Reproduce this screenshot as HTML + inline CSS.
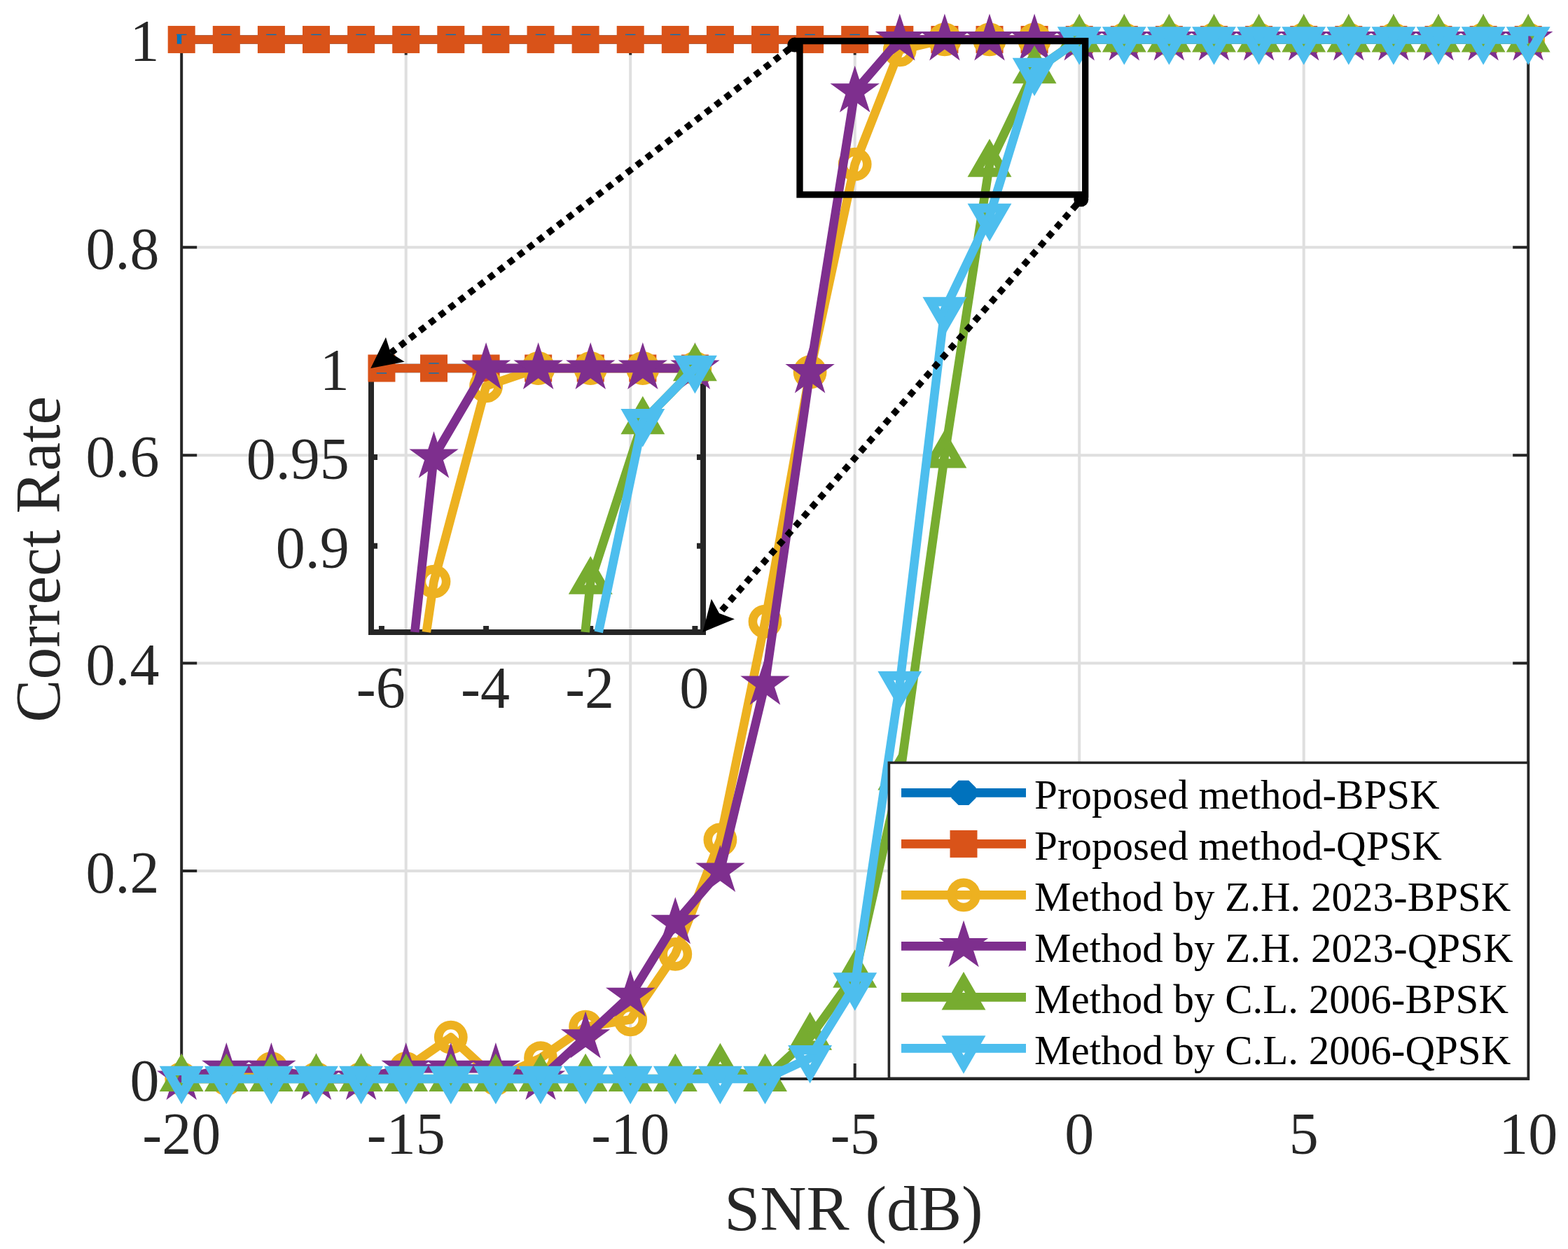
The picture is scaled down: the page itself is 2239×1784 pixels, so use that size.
<!DOCTYPE html><html><head><meta charset="utf-8"><style>html,body{margin:0;padding:0;background:#fff;overflow:hidden;}svg{display:block;}text{font-family:"Liberation Serif",serif;}</style></head><body>
<svg width="2239" height="1784" viewBox="0 0 2239 1784">
<rect width="2239" height="1784" fill="#fff"/>
<path d="M579.7 56.45 V1540.95 M900.2 56.45 V1540.95 M1220.7 56.45 V1540.95 M1541.2 56.45 V1540.95 M1861.7 56.45 V1540.95 M259.2 1244.05 H2182.2 M259.2 947.15 H2182.2 M259.2 650.25 H2182.2 M259.2 353.35 H2182.2" stroke="#dfdfdf" stroke-width="4" fill="none"/>
<path d="M259.2 56.45 H2182.2 V1540.95 H259.2 Z M259.2 1540.95 v-22 M259.2 56.45 v22 M579.7 1540.95 v-22 M579.7 56.45 v22 M900.2 1540.95 v-22 M900.2 56.45 v22 M1220.7 1540.95 v-22 M1220.7 56.45 v22 M1541.2 1540.95 v-22 M1541.2 56.45 v22 M1861.7 1540.95 v-22 M1861.7 56.45 v22 M2182.2 1540.95 v-22 M2182.2 56.45 v22 M259.2 1540.95 h22 M2182.2 1540.95 h-22 M259.2 1244.05 h22 M2182.2 1244.05 h-22 M259.2 947.15 h22 M2182.2 947.15 h-22 M259.2 650.25 h22 M2182.2 650.25 h-22 M259.2 353.35 h22 M2182.2 353.35 h-22 M259.2 56.45 h22 M2182.2 56.45 h-22" stroke="#262626" stroke-width="4" fill="none"/>
<text x="227.5" y="1571.8" font-size="84" fill="#262626" text-anchor="end">0</text>
<text x="227.5" y="1274.9" font-size="84" fill="#262626" text-anchor="end">0.2</text>
<text x="227.5" y="978" font-size="84" fill="#262626" text-anchor="end">0.4</text>
<text x="227.5" y="681.1" font-size="84" fill="#262626" text-anchor="end">0.6</text>
<text x="227.5" y="384.2" font-size="84" fill="#262626" text-anchor="end">0.8</text>
<text x="227.5" y="87.3" font-size="84" fill="#262626" text-anchor="end">1</text>
<text x="259.2" y="1648.4" font-size="84" fill="#262626" text-anchor="middle">-20</text>
<text x="579.7" y="1648.4" font-size="84" fill="#262626" text-anchor="middle">-15</text>
<text x="900.2" y="1648.4" font-size="84" fill="#262626" text-anchor="middle">-10</text>
<text x="1220.7" y="1648.4" font-size="84" fill="#262626" text-anchor="middle">-5</text>
<text x="1541.2" y="1648.4" font-size="84" fill="#262626" text-anchor="middle">0</text>
<text x="1861.7" y="1648.4" font-size="84" fill="#262626" text-anchor="middle">5</text>
<text x="2182.2" y="1648.4" font-size="84" fill="#262626" text-anchor="middle">10</text>
<text x="1218.9" y="1757.2" font-size="91.7" fill="#262626" text-anchor="middle">SNR (dB)</text>
<text transform="translate(85.3 798.7) rotate(-90)" font-size="91.7" fill="#262626" text-anchor="middle">Correct Rate</text>
<path d="M259.2 56.45 L323.3 56.45 L387.4 56.45 L451.5 56.45 L515.6 56.45 L579.7 56.45 L643.8 56.45 L707.9 56.45 L772 56.45 L836.1 56.45 L900.2 56.45 L964.3 56.45 L1028.4 56.45 L1092.5 56.45 L1156.6 56.45 L1220.7 56.45 L1284.8 56.45 L1348.9 56.45 L1413 56.45 L1477.1 56.45 L1541.2 56.45 L1605.3 56.45 L1669.4 56.45 L1733.5 56.45 L1797.6 56.45 L1861.7 56.45 L1925.8 56.45 L1989.9 56.45 L2054 56.45 L2118.1 56.45 L2182.2 56.45" stroke="#0072BD" stroke-width="12.6" fill="none" stroke-linejoin="round"/>
<path d="M251.91 38.85 L266.49 38.85 L276.8 49.16 L276.8 63.74 L266.49 74.05 L251.91 74.05 L241.6 63.74 L241.6 49.16Z" fill="#0072BD"/><path d="M316.01 38.85 L330.59 38.85 L340.9 49.16 L340.9 63.74 L330.59 74.05 L316.01 74.05 L305.7 63.74 L305.7 49.16Z" fill="#0072BD"/><path d="M380.11 38.85 L394.69 38.85 L405 49.16 L405 63.74 L394.69 74.05 L380.11 74.05 L369.8 63.74 L369.8 49.16Z" fill="#0072BD"/><path d="M444.21 38.85 L458.79 38.85 L469.1 49.16 L469.1 63.74 L458.79 74.05 L444.21 74.05 L433.9 63.74 L433.9 49.16Z" fill="#0072BD"/><path d="M508.31 38.85 L522.89 38.85 L533.2 49.16 L533.2 63.74 L522.89 74.05 L508.31 74.05 L498 63.74 L498 49.16Z" fill="#0072BD"/><path d="M572.41 38.85 L586.99 38.85 L597.3 49.16 L597.3 63.74 L586.99 74.05 L572.41 74.05 L562.1 63.74 L562.1 49.16Z" fill="#0072BD"/><path d="M636.51 38.85 L651.09 38.85 L661.4 49.16 L661.4 63.74 L651.09 74.05 L636.51 74.05 L626.2 63.74 L626.2 49.16Z" fill="#0072BD"/><path d="M700.61 38.85 L715.19 38.85 L725.5 49.16 L725.5 63.74 L715.19 74.05 L700.61 74.05 L690.3 63.74 L690.3 49.16Z" fill="#0072BD"/><path d="M764.71 38.85 L779.29 38.85 L789.6 49.16 L789.6 63.74 L779.29 74.05 L764.71 74.05 L754.4 63.74 L754.4 49.16Z" fill="#0072BD"/><path d="M828.81 38.85 L843.39 38.85 L853.7 49.16 L853.7 63.74 L843.39 74.05 L828.81 74.05 L818.5 63.74 L818.5 49.16Z" fill="#0072BD"/><path d="M892.91 38.85 L907.49 38.85 L917.8 49.16 L917.8 63.74 L907.49 74.05 L892.91 74.05 L882.6 63.74 L882.6 49.16Z" fill="#0072BD"/><path d="M957.01 38.85 L971.59 38.85 L981.9 49.16 L981.9 63.74 L971.59 74.05 L957.01 74.05 L946.7 63.74 L946.7 49.16Z" fill="#0072BD"/><path d="M1021.11 38.85 L1035.69 38.85 L1046 49.16 L1046 63.74 L1035.69 74.05 L1021.11 74.05 L1010.8 63.74 L1010.8 49.16Z" fill="#0072BD"/><path d="M1085.21 38.85 L1099.79 38.85 L1110.1 49.16 L1110.1 63.74 L1099.79 74.05 L1085.21 74.05 L1074.9 63.74 L1074.9 49.16Z" fill="#0072BD"/><path d="M1149.31 38.85 L1163.89 38.85 L1174.2 49.16 L1174.2 63.74 L1163.89 74.05 L1149.31 74.05 L1139 63.74 L1139 49.16Z" fill="#0072BD"/><path d="M1213.41 38.85 L1227.99 38.85 L1238.3 49.16 L1238.3 63.74 L1227.99 74.05 L1213.41 74.05 L1203.1 63.74 L1203.1 49.16Z" fill="#0072BD"/><path d="M1277.51 38.85 L1292.09 38.85 L1302.4 49.16 L1302.4 63.74 L1292.09 74.05 L1277.51 74.05 L1267.2 63.74 L1267.2 49.16Z" fill="#0072BD"/><path d="M1341.61 38.85 L1356.19 38.85 L1366.5 49.16 L1366.5 63.74 L1356.19 74.05 L1341.61 74.05 L1331.3 63.74 L1331.3 49.16Z" fill="#0072BD"/><path d="M1405.71 38.85 L1420.29 38.85 L1430.6 49.16 L1430.6 63.74 L1420.29 74.05 L1405.71 74.05 L1395.4 63.74 L1395.4 49.16Z" fill="#0072BD"/><path d="M1469.81 38.85 L1484.39 38.85 L1494.7 49.16 L1494.7 63.74 L1484.39 74.05 L1469.81 74.05 L1459.5 63.74 L1459.5 49.16Z" fill="#0072BD"/><path d="M1533.91 38.85 L1548.49 38.85 L1558.8 49.16 L1558.8 63.74 L1548.49 74.05 L1533.91 74.05 L1523.6 63.74 L1523.6 49.16Z" fill="#0072BD"/><path d="M1598.01 38.85 L1612.59 38.85 L1622.9 49.16 L1622.9 63.74 L1612.59 74.05 L1598.01 74.05 L1587.7 63.74 L1587.7 49.16Z" fill="#0072BD"/><path d="M1662.11 38.85 L1676.69 38.85 L1687 49.16 L1687 63.74 L1676.69 74.05 L1662.11 74.05 L1651.8 63.74 L1651.8 49.16Z" fill="#0072BD"/><path d="M1726.21 38.85 L1740.79 38.85 L1751.1 49.16 L1751.1 63.74 L1740.79 74.05 L1726.21 74.05 L1715.9 63.74 L1715.9 49.16Z" fill="#0072BD"/><path d="M1790.31 38.85 L1804.89 38.85 L1815.2 49.16 L1815.2 63.74 L1804.89 74.05 L1790.31 74.05 L1780 63.74 L1780 49.16Z" fill="#0072BD"/><path d="M1854.41 38.85 L1868.99 38.85 L1879.3 49.16 L1879.3 63.74 L1868.99 74.05 L1854.41 74.05 L1844.1 63.74 L1844.1 49.16Z" fill="#0072BD"/><path d="M1918.51 38.85 L1933.09 38.85 L1943.4 49.16 L1943.4 63.74 L1933.09 74.05 L1918.51 74.05 L1908.2 63.74 L1908.2 49.16Z" fill="#0072BD"/><path d="M1982.61 38.85 L1997.19 38.85 L2007.5 49.16 L2007.5 63.74 L1997.19 74.05 L1982.61 74.05 L1972.3 63.74 L1972.3 49.16Z" fill="#0072BD"/><path d="M2046.71 38.85 L2061.29 38.85 L2071.6 49.16 L2071.6 63.74 L2061.29 74.05 L2046.71 74.05 L2036.4 63.74 L2036.4 49.16Z" fill="#0072BD"/><path d="M2110.81 38.85 L2125.39 38.85 L2135.7 49.16 L2135.7 63.74 L2125.39 74.05 L2110.81 74.05 L2100.5 63.74 L2100.5 49.16Z" fill="#0072BD"/><path d="M2174.91 38.85 L2189.49 38.85 L2199.8 49.16 L2199.8 63.74 L2189.49 74.05 L2174.91 74.05 L2164.6 63.74 L2164.6 49.16Z" fill="#0072BD"/>
<path d="M259.2 56.45 L323.3 56.45 L387.4 56.45 L451.5 56.45 L515.6 56.45 L579.7 56.45 L643.8 56.45 L707.9 56.45 L772 56.45 L836.1 56.45 L900.2 56.45 L964.3 56.45 L1028.4 56.45 L1092.5 56.45 L1156.6 56.45 L1220.7 56.45 L1284.8 56.45 L1348.9 56.45 L1413 56.45 L1477.1 56.45 L1541.2 56.45 L1605.3 56.45 L1669.4 56.45 L1733.5 56.45 L1797.6 56.45 L1861.7 56.45 L1925.8 56.45 L1989.9 56.45 L2054 56.45 L2118.1 56.45 L2182.2 56.45" stroke="#D95319" stroke-width="12.6" fill="none" stroke-linejoin="round"/>
<rect x="239.7" y="36.95" width="39" height="39" fill="#D95319"/><rect x="252" y="48.75" width="14.4" height="1.4" fill="#0072BD"/><rect x="303.8" y="36.95" width="39" height="39" fill="#D95319"/><rect x="316.1" y="48.75" width="14.4" height="1.4" fill="#0072BD"/><rect x="367.9" y="36.95" width="39" height="39" fill="#D95319"/><rect x="380.2" y="48.75" width="14.4" height="1.4" fill="#0072BD"/><rect x="432" y="36.95" width="39" height="39" fill="#D95319"/><rect x="444.3" y="48.75" width="14.4" height="1.4" fill="#0072BD"/><rect x="496.1" y="36.95" width="39" height="39" fill="#D95319"/><rect x="508.4" y="48.75" width="14.4" height="1.4" fill="#0072BD"/><rect x="560.2" y="36.95" width="39" height="39" fill="#D95319"/><rect x="572.5" y="48.75" width="14.4" height="1.4" fill="#0072BD"/><rect x="624.3" y="36.95" width="39" height="39" fill="#D95319"/><rect x="636.6" y="48.75" width="14.4" height="1.4" fill="#0072BD"/><rect x="688.4" y="36.95" width="39" height="39" fill="#D95319"/><rect x="700.7" y="48.75" width="14.4" height="1.4" fill="#0072BD"/><rect x="752.5" y="36.95" width="39" height="39" fill="#D95319"/><rect x="764.8" y="48.75" width="14.4" height="1.4" fill="#0072BD"/><rect x="816.6" y="36.95" width="39" height="39" fill="#D95319"/><rect x="828.9" y="48.75" width="14.4" height="1.4" fill="#0072BD"/><rect x="880.7" y="36.95" width="39" height="39" fill="#D95319"/><rect x="893" y="48.75" width="14.4" height="1.4" fill="#0072BD"/><rect x="944.8" y="36.95" width="39" height="39" fill="#D95319"/><rect x="957.1" y="48.75" width="14.4" height="1.4" fill="#0072BD"/><rect x="1008.9" y="36.95" width="39" height="39" fill="#D95319"/><rect x="1021.2" y="48.75" width="14.4" height="1.4" fill="#0072BD"/><rect x="1073" y="36.95" width="39" height="39" fill="#D95319"/><rect x="1085.3" y="48.75" width="14.4" height="1.4" fill="#0072BD"/><rect x="1137.1" y="36.95" width="39" height="39" fill="#D95319"/><rect x="1149.4" y="48.75" width="14.4" height="1.4" fill="#0072BD"/><rect x="1201.2" y="36.95" width="39" height="39" fill="#D95319"/><rect x="1213.5" y="48.75" width="14.4" height="1.4" fill="#0072BD"/><rect x="1265.3" y="36.95" width="39" height="39" fill="#D95319"/><rect x="1277.6" y="48.75" width="14.4" height="1.4" fill="#0072BD"/><rect x="1329.4" y="36.95" width="39" height="39" fill="#D95319"/><rect x="1341.7" y="48.75" width="14.4" height="1.4" fill="#0072BD"/><rect x="1393.5" y="36.95" width="39" height="39" fill="#D95319"/><rect x="1405.8" y="48.75" width="14.4" height="1.4" fill="#0072BD"/><rect x="1457.6" y="36.95" width="39" height="39" fill="#D95319"/><rect x="1469.9" y="48.75" width="14.4" height="1.4" fill="#0072BD"/><rect x="1521.7" y="36.95" width="39" height="39" fill="#D95319"/><rect x="1534" y="48.75" width="14.4" height="1.4" fill="#0072BD"/><rect x="1585.8" y="36.95" width="39" height="39" fill="#D95319"/><rect x="1598.1" y="48.75" width="14.4" height="1.4" fill="#0072BD"/><rect x="1649.9" y="36.95" width="39" height="39" fill="#D95319"/><rect x="1662.2" y="48.75" width="14.4" height="1.4" fill="#0072BD"/><rect x="1714" y="36.95" width="39" height="39" fill="#D95319"/><rect x="1726.3" y="48.75" width="14.4" height="1.4" fill="#0072BD"/><rect x="1778.1" y="36.95" width="39" height="39" fill="#D95319"/><rect x="1790.4" y="48.75" width="14.4" height="1.4" fill="#0072BD"/><rect x="1842.2" y="36.95" width="39" height="39" fill="#D95319"/><rect x="1854.5" y="48.75" width="14.4" height="1.4" fill="#0072BD"/><rect x="1906.3" y="36.95" width="39" height="39" fill="#D95319"/><rect x="1918.6" y="48.75" width="14.4" height="1.4" fill="#0072BD"/><rect x="1970.4" y="36.95" width="39" height="39" fill="#D95319"/><rect x="1982.7" y="48.75" width="14.4" height="1.4" fill="#0072BD"/><rect x="2034.5" y="36.95" width="39" height="39" fill="#D95319"/><rect x="2046.8" y="48.75" width="14.4" height="1.4" fill="#0072BD"/><rect x="2098.6" y="36.95" width="39" height="39" fill="#D95319"/><rect x="2110.9" y="48.75" width="14.4" height="1.4" fill="#0072BD"/><rect x="2162.7" y="36.95" width="39" height="39" fill="#D95319"/><rect x="2175" y="48.75" width="14.4" height="1.4" fill="#0072BD"/>
<path d="M259.2 1540.95 L323.3 1540.95 L387.4 1526.11 L451.5 1540.95 L515.6 1540.95 L579.7 1526.11 L643.8 1481.57 L707.9 1540.95 L772 1511.26 L836.1 1466.73 L900.2 1456.33 L964.3 1362.81 L1028.4 1199.52 L1092.5 887.77 L1156.6 531.49 L1220.7 234.59 L1284.8 71.3 L1348.9 56.45 L1413 56.45 L1477.1 56.45 L1541.2 56.45 L1605.3 56.45 L1669.4 56.45 L1733.5 56.45 L1797.6 56.45 L1861.7 56.45 L1925.8 56.45 L1989.9 56.45 L2054 56.45 L2118.1 56.45 L2182.2 56.45" stroke="#EDB120" stroke-width="12.6" fill="none" stroke-linejoin="round"/>
<circle cx="259.2" cy="1540.95" r="17.6" fill="none" stroke="#EDB120" stroke-width="12.6"/><circle cx="323.3" cy="1540.95" r="17.6" fill="none" stroke="#EDB120" stroke-width="12.6"/><circle cx="387.4" cy="1526.11" r="17.6" fill="none" stroke="#EDB120" stroke-width="12.6"/><circle cx="451.5" cy="1540.95" r="17.6" fill="none" stroke="#EDB120" stroke-width="12.6"/><circle cx="515.6" cy="1540.95" r="17.6" fill="none" stroke="#EDB120" stroke-width="12.6"/><circle cx="579.7" cy="1526.11" r="17.6" fill="none" stroke="#EDB120" stroke-width="12.6"/><circle cx="643.8" cy="1481.57" r="17.6" fill="none" stroke="#EDB120" stroke-width="12.6"/><circle cx="707.9" cy="1540.95" r="17.6" fill="none" stroke="#EDB120" stroke-width="12.6"/><circle cx="772" cy="1511.26" r="17.6" fill="none" stroke="#EDB120" stroke-width="12.6"/><circle cx="836.1" cy="1466.73" r="17.6" fill="none" stroke="#EDB120" stroke-width="12.6"/><circle cx="900.2" cy="1456.33" r="17.6" fill="none" stroke="#EDB120" stroke-width="12.6"/><circle cx="964.3" cy="1362.81" r="17.6" fill="none" stroke="#EDB120" stroke-width="12.6"/><circle cx="1028.4" cy="1199.52" r="17.6" fill="none" stroke="#EDB120" stroke-width="12.6"/><circle cx="1092.5" cy="887.77" r="17.6" fill="none" stroke="#EDB120" stroke-width="12.6"/><circle cx="1156.6" cy="531.49" r="17.6" fill="none" stroke="#EDB120" stroke-width="12.6"/><circle cx="1220.7" cy="234.59" r="17.6" fill="none" stroke="#EDB120" stroke-width="12.6"/><circle cx="1284.8" cy="71.3" r="17.6" fill="none" stroke="#EDB120" stroke-width="12.6"/><circle cx="1348.9" cy="56.45" r="17.6" fill="none" stroke="#EDB120" stroke-width="12.6"/><circle cx="1413" cy="56.45" r="17.6" fill="none" stroke="#EDB120" stroke-width="12.6"/><circle cx="1477.1" cy="56.45" r="17.6" fill="none" stroke="#EDB120" stroke-width="12.6"/><circle cx="1541.2" cy="56.45" r="17.6" fill="none" stroke="#EDB120" stroke-width="12.6"/><circle cx="1605.3" cy="56.45" r="17.6" fill="none" stroke="#EDB120" stroke-width="12.6"/><circle cx="1669.4" cy="56.45" r="17.6" fill="none" stroke="#EDB120" stroke-width="12.6"/><circle cx="1733.5" cy="56.45" r="17.6" fill="none" stroke="#EDB120" stroke-width="12.6"/><circle cx="1797.6" cy="56.45" r="17.6" fill="none" stroke="#EDB120" stroke-width="12.6"/><circle cx="1861.7" cy="56.45" r="17.6" fill="none" stroke="#EDB120" stroke-width="12.6"/><circle cx="1925.8" cy="56.45" r="17.6" fill="none" stroke="#EDB120" stroke-width="12.6"/><circle cx="1989.9" cy="56.45" r="17.6" fill="none" stroke="#EDB120" stroke-width="12.6"/><circle cx="2054" cy="56.45" r="17.6" fill="none" stroke="#EDB120" stroke-width="12.6"/><circle cx="2118.1" cy="56.45" r="17.6" fill="none" stroke="#EDB120" stroke-width="12.6"/><circle cx="2182.2" cy="56.45" r="17.6" fill="none" stroke="#EDB120" stroke-width="12.6"/>
<path d="M259.2 1540.95 L323.3 1526.11 L387.4 1526.11 L451.5 1540.95 L515.6 1540.95 L579.7 1526.11 L643.8 1526.11 L707.9 1526.11 L772 1540.95 L836.1 1481.57 L900.2 1422.19 L964.3 1318.28 L1028.4 1244.05 L1092.5 976.84 L1156.6 531.49 L1220.7 130.68 L1284.8 56.45 L1348.9 56.45 L1413 56.45 L1477.1 56.45 L1541.2 56.45 L1605.3 56.45 L1669.4 56.45 L1733.5 56.45 L1797.6 56.45 L1861.7 56.45 L1925.8 56.45 L1989.9 56.45 L2054 56.45 L2118.1 56.45 L2182.2 56.45" stroke="#7E2F8E" stroke-width="12.6" fill="none" stroke-linejoin="round"/>
<path d="M259.2 1503.95 L267.51 1529.52 L294.39 1529.52 L272.64 1545.32 L280.95 1570.88 L259.2 1555.08 L237.45 1570.88 L245.76 1545.32 L224.01 1529.52 L250.89 1529.52Z" fill="#7E2F8E"/><path d="M323.3 1489.11 L331.61 1514.67 L358.49 1514.67 L336.74 1530.47 L345.05 1556.04 L323.3 1540.24 L301.55 1556.04 L309.86 1530.47 L288.11 1514.67 L314.99 1514.67Z" fill="#7E2F8E"/><path d="M387.4 1489.11 L395.71 1514.67 L422.59 1514.67 L400.84 1530.47 L409.15 1556.04 L387.4 1540.24 L365.65 1556.04 L373.96 1530.47 L352.21 1514.67 L379.09 1514.67Z" fill="#7E2F8E"/><path d="M451.5 1503.95 L459.81 1529.52 L486.69 1529.52 L464.94 1545.32 L473.25 1570.88 L451.5 1555.08 L429.75 1570.88 L438.06 1545.32 L416.31 1529.52 L443.19 1529.52Z" fill="#7E2F8E"/><path d="M515.6 1503.95 L523.91 1529.52 L550.79 1529.52 L529.04 1545.32 L537.35 1570.88 L515.6 1555.08 L493.85 1570.88 L502.16 1545.32 L480.41 1529.52 L507.29 1529.52Z" fill="#7E2F8E"/><path d="M579.7 1489.11 L588.01 1514.67 L614.89 1514.67 L593.14 1530.47 L601.45 1556.04 L579.7 1540.24 L557.95 1556.04 L566.26 1530.47 L544.51 1514.67 L571.39 1514.67Z" fill="#7E2F8E"/><path d="M643.8 1489.11 L652.11 1514.67 L678.99 1514.67 L657.24 1530.47 L665.55 1556.04 L643.8 1540.24 L622.05 1556.04 L630.36 1530.47 L608.61 1514.67 L635.49 1514.67Z" fill="#7E2F8E"/><path d="M707.9 1489.11 L716.21 1514.67 L743.09 1514.67 L721.34 1530.47 L729.65 1556.04 L707.9 1540.24 L686.15 1556.04 L694.46 1530.47 L672.71 1514.67 L699.59 1514.67Z" fill="#7E2F8E"/><path d="M772 1503.95 L780.31 1529.52 L807.19 1529.52 L785.44 1545.32 L793.75 1570.88 L772 1555.08 L750.25 1570.88 L758.56 1545.32 L736.81 1529.52 L763.69 1529.52Z" fill="#7E2F8E"/><path d="M836.1 1444.57 L844.41 1470.14 L871.29 1470.14 L849.54 1485.94 L857.85 1511.5 L836.1 1495.7 L814.35 1511.5 L822.66 1485.94 L800.91 1470.14 L827.79 1470.14Z" fill="#7E2F8E"/><path d="M900.2 1385.19 L908.51 1410.76 L935.39 1410.76 L913.64 1426.56 L921.95 1452.12 L900.2 1436.32 L878.45 1452.12 L886.76 1426.56 L865.01 1410.76 L891.89 1410.76Z" fill="#7E2F8E"/><path d="M964.3 1281.28 L972.61 1306.84 L999.49 1306.84 L977.74 1322.64 L986.05 1348.21 L964.3 1332.41 L942.55 1348.21 L950.86 1322.64 L929.11 1306.84 L955.99 1306.84Z" fill="#7E2F8E"/><path d="M1028.4 1207.05 L1036.71 1232.62 L1063.59 1232.62 L1041.84 1248.42 L1050.15 1273.98 L1028.4 1258.18 L1006.65 1273.98 L1014.96 1248.42 L993.21 1232.62 L1020.09 1232.62Z" fill="#7E2F8E"/><path d="M1092.5 939.84 L1100.81 965.41 L1127.69 965.41 L1105.94 981.21 L1114.25 1006.77 L1092.5 990.97 L1070.75 1006.77 L1079.06 981.21 L1057.31 965.41 L1084.19 965.41Z" fill="#7E2F8E"/><path d="M1156.6 494.49 L1164.91 520.06 L1191.79 520.06 L1170.04 535.86 L1178.35 561.42 L1156.6 545.62 L1134.85 561.42 L1143.16 535.86 L1121.41 520.06 L1148.29 520.06Z" fill="#7E2F8E"/><path d="M1220.7 93.68 L1229.01 119.24 L1255.89 119.24 L1234.14 135.04 L1242.45 160.61 L1220.7 144.81 L1198.95 160.61 L1207.26 135.04 L1185.51 119.24 L1212.39 119.24Z" fill="#7E2F8E"/><path d="M1284.8 19.45 L1293.11 45.02 L1319.99 45.02 L1298.24 60.82 L1306.55 86.38 L1284.8 70.58 L1263.05 86.38 L1271.36 60.82 L1249.61 45.02 L1276.49 45.02Z" fill="#7E2F8E"/><path d="M1348.9 19.45 L1357.21 45.02 L1384.09 45.02 L1362.34 60.82 L1370.65 86.38 L1348.9 70.58 L1327.15 86.38 L1335.46 60.82 L1313.71 45.02 L1340.59 45.02Z" fill="#7E2F8E"/><path d="M1413 19.45 L1421.31 45.02 L1448.19 45.02 L1426.44 60.82 L1434.75 86.38 L1413 70.58 L1391.25 86.38 L1399.56 60.82 L1377.81 45.02 L1404.69 45.02Z" fill="#7E2F8E"/><path d="M1477.1 19.45 L1485.41 45.02 L1512.29 45.02 L1490.54 60.82 L1498.85 86.38 L1477.1 70.58 L1455.35 86.38 L1463.66 60.82 L1441.91 45.02 L1468.79 45.02Z" fill="#7E2F8E"/><path d="M1541.2 19.45 L1549.51 45.02 L1576.39 45.02 L1554.64 60.82 L1562.95 86.38 L1541.2 70.58 L1519.45 86.38 L1527.76 60.82 L1506.01 45.02 L1532.89 45.02Z" fill="#7E2F8E"/><path d="M1605.3 19.45 L1613.61 45.02 L1640.49 45.02 L1618.74 60.82 L1627.05 86.38 L1605.3 70.58 L1583.55 86.38 L1591.86 60.82 L1570.11 45.02 L1596.99 45.02Z" fill="#7E2F8E"/><path d="M1669.4 19.45 L1677.71 45.02 L1704.59 45.02 L1682.84 60.82 L1691.15 86.38 L1669.4 70.58 L1647.65 86.38 L1655.96 60.82 L1634.21 45.02 L1661.09 45.02Z" fill="#7E2F8E"/><path d="M1733.5 19.45 L1741.81 45.02 L1768.69 45.02 L1746.94 60.82 L1755.25 86.38 L1733.5 70.58 L1711.75 86.38 L1720.06 60.82 L1698.31 45.02 L1725.19 45.02Z" fill="#7E2F8E"/><path d="M1797.6 19.45 L1805.91 45.02 L1832.79 45.02 L1811.04 60.82 L1819.35 86.38 L1797.6 70.58 L1775.85 86.38 L1784.16 60.82 L1762.41 45.02 L1789.29 45.02Z" fill="#7E2F8E"/><path d="M1861.7 19.45 L1870.01 45.02 L1896.89 45.02 L1875.14 60.82 L1883.45 86.38 L1861.7 70.58 L1839.95 86.38 L1848.26 60.82 L1826.51 45.02 L1853.39 45.02Z" fill="#7E2F8E"/><path d="M1925.8 19.45 L1934.11 45.02 L1960.99 45.02 L1939.24 60.82 L1947.55 86.38 L1925.8 70.58 L1904.05 86.38 L1912.36 60.82 L1890.61 45.02 L1917.49 45.02Z" fill="#7E2F8E"/><path d="M1989.9 19.45 L1998.21 45.02 L2025.09 45.02 L2003.34 60.82 L2011.65 86.38 L1989.9 70.58 L1968.15 86.38 L1976.46 60.82 L1954.71 45.02 L1981.59 45.02Z" fill="#7E2F8E"/><path d="M2054 19.45 L2062.31 45.02 L2089.19 45.02 L2067.44 60.82 L2075.75 86.38 L2054 70.58 L2032.25 86.38 L2040.56 60.82 L2018.81 45.02 L2045.69 45.02Z" fill="#7E2F8E"/><path d="M2118.1 19.45 L2126.41 45.02 L2153.29 45.02 L2131.54 60.82 L2139.85 86.38 L2118.1 70.58 L2096.35 86.38 L2104.66 60.82 L2082.91 45.02 L2109.79 45.02Z" fill="#7E2F8E"/><path d="M2182.2 19.45 L2190.51 45.02 L2217.39 45.02 L2195.64 60.82 L2203.95 86.38 L2182.2 70.58 L2160.45 86.38 L2168.76 60.82 L2147.01 45.02 L2173.89 45.02Z" fill="#7E2F8E"/>
<path d="M259.2 1540.95 L323.3 1540.95 L387.4 1540.95 L451.5 1540.95 L515.6 1540.95 L579.7 1540.95 L643.8 1540.95 L707.9 1540.95 L772 1540.95 L836.1 1540.95 L900.2 1540.95 L964.3 1540.95 L1028.4 1526.11 L1092.5 1540.95 L1156.6 1481.57 L1220.7 1392.5 L1284.8 1110.45 L1348.9 650.25 L1413 234.59 L1477.1 100.99 L1541.2 56.45 L1605.3 56.45 L1669.4 56.45 L1733.5 56.45 L1797.6 56.45 L1861.7 56.45 L1925.8 56.45 L1989.9 56.45 L2054 56.45 L2118.1 56.45 L2182.2 56.45" stroke="#77AC30" stroke-width="12.6" fill="none" stroke-linejoin="round"/>
<path d="M259.2 1504.65 L290.64 1559.1 L227.76 1559.1Z M250.54 1545.95 L267.86 1545.95 L259.2 1530.95Z" fill="#77AC30" fill-rule="evenodd"/><path d="M323.3 1504.65 L354.74 1559.1 L291.86 1559.1Z M314.64 1545.95 L331.96 1545.95 L323.3 1530.95Z" fill="#77AC30" fill-rule="evenodd"/><path d="M387.4 1504.65 L418.84 1559.1 L355.96 1559.1Z M378.74 1545.95 L396.06 1545.95 L387.4 1530.95Z" fill="#77AC30" fill-rule="evenodd"/><path d="M451.5 1504.65 L482.94 1559.1 L420.06 1559.1Z M442.84 1545.95 L460.16 1545.95 L451.5 1530.95Z" fill="#77AC30" fill-rule="evenodd"/><path d="M515.6 1504.65 L547.04 1559.1 L484.16 1559.1Z M506.94 1545.95 L524.26 1545.95 L515.6 1530.95Z" fill="#77AC30" fill-rule="evenodd"/><path d="M579.7 1504.65 L611.14 1559.1 L548.26 1559.1Z M571.04 1545.95 L588.36 1545.95 L579.7 1530.95Z" fill="#77AC30" fill-rule="evenodd"/><path d="M643.8 1504.65 L675.24 1559.1 L612.36 1559.1Z M635.14 1545.95 L652.46 1545.95 L643.8 1530.95Z" fill="#77AC30" fill-rule="evenodd"/><path d="M707.9 1504.65 L739.34 1559.1 L676.46 1559.1Z M699.24 1545.95 L716.56 1545.95 L707.9 1530.95Z" fill="#77AC30" fill-rule="evenodd"/><path d="M772 1504.65 L803.44 1559.1 L740.56 1559.1Z M763.34 1545.95 L780.66 1545.95 L772 1530.95Z" fill="#77AC30" fill-rule="evenodd"/><path d="M836.1 1504.65 L867.54 1559.1 L804.66 1559.1Z M827.44 1545.95 L844.76 1545.95 L836.1 1530.95Z" fill="#77AC30" fill-rule="evenodd"/><path d="M900.2 1504.65 L931.64 1559.1 L868.76 1559.1Z M891.54 1545.95 L908.86 1545.95 L900.2 1530.95Z" fill="#77AC30" fill-rule="evenodd"/><path d="M964.3 1504.65 L995.74 1559.1 L932.86 1559.1Z M955.64 1545.95 L972.96 1545.95 L964.3 1530.95Z" fill="#77AC30" fill-rule="evenodd"/><path d="M1028.4 1489.81 L1059.84 1544.26 L996.96 1544.26Z M1019.74 1531.11 L1037.06 1531.11 L1028.4 1516.11Z" fill="#77AC30" fill-rule="evenodd"/><path d="M1092.5 1504.65 L1123.94 1559.1 L1061.06 1559.1Z M1083.84 1545.95 L1101.16 1545.95 L1092.5 1530.95Z" fill="#77AC30" fill-rule="evenodd"/><path d="M1156.6 1445.27 L1188.04 1499.72 L1125.16 1499.72Z M1147.94 1486.57 L1165.26 1486.57 L1156.6 1471.57Z" fill="#77AC30" fill-rule="evenodd"/><path d="M1220.7 1356.2 L1252.14 1410.65 L1189.26 1410.65Z M1212.04 1397.5 L1229.36 1397.5 L1220.7 1382.5Z" fill="#77AC30" fill-rule="evenodd"/><path d="M1284.8 1074.15 L1316.24 1128.6 L1253.36 1128.6Z M1276.14 1115.45 L1293.46 1115.45 L1284.8 1100.45Z" fill="#77AC30" fill-rule="evenodd"/><path d="M1348.9 613.95 L1380.34 668.4 L1317.46 668.4Z M1340.24 655.25 L1357.56 655.25 L1348.9 640.25Z" fill="#77AC30" fill-rule="evenodd"/><path d="M1413 198.29 L1444.44 252.74 L1381.56 252.74Z M1404.34 239.59 L1421.66 239.59 L1413 224.59Z" fill="#77AC30" fill-rule="evenodd"/><path d="M1477.1 64.69 L1508.54 119.14 L1445.66 119.14Z M1468.44 105.99 L1485.76 105.99 L1477.1 90.99Z" fill="#77AC30" fill-rule="evenodd"/><path d="M1541.2 20.15 L1572.64 74.6 L1509.76 74.6Z M1532.54 61.45 L1549.86 61.45 L1541.2 46.45Z" fill="#77AC30" fill-rule="evenodd"/><path d="M1605.3 20.15 L1636.74 74.6 L1573.86 74.6Z M1596.64 61.45 L1613.96 61.45 L1605.3 46.45Z" fill="#77AC30" fill-rule="evenodd"/><path d="M1669.4 20.15 L1700.84 74.6 L1637.96 74.6Z M1660.74 61.45 L1678.06 61.45 L1669.4 46.45Z" fill="#77AC30" fill-rule="evenodd"/><path d="M1733.5 20.15 L1764.94 74.6 L1702.06 74.6Z M1724.84 61.45 L1742.16 61.45 L1733.5 46.45Z" fill="#77AC30" fill-rule="evenodd"/><path d="M1797.6 20.15 L1829.04 74.6 L1766.16 74.6Z M1788.94 61.45 L1806.26 61.45 L1797.6 46.45Z" fill="#77AC30" fill-rule="evenodd"/><path d="M1861.7 20.15 L1893.14 74.6 L1830.26 74.6Z M1853.04 61.45 L1870.36 61.45 L1861.7 46.45Z" fill="#77AC30" fill-rule="evenodd"/><path d="M1925.8 20.15 L1957.24 74.6 L1894.36 74.6Z M1917.14 61.45 L1934.46 61.45 L1925.8 46.45Z" fill="#77AC30" fill-rule="evenodd"/><path d="M1989.9 20.15 L2021.34 74.6 L1958.46 74.6Z M1981.24 61.45 L1998.56 61.45 L1989.9 46.45Z" fill="#77AC30" fill-rule="evenodd"/><path d="M2054 20.15 L2085.44 74.6 L2022.56 74.6Z M2045.34 61.45 L2062.66 61.45 L2054 46.45Z" fill="#77AC30" fill-rule="evenodd"/><path d="M2118.1 20.15 L2149.54 74.6 L2086.66 74.6Z M2109.44 61.45 L2126.76 61.45 L2118.1 46.45Z" fill="#77AC30" fill-rule="evenodd"/><path d="M2182.2 20.15 L2213.64 74.6 L2150.76 74.6Z M2173.54 61.45 L2190.86 61.45 L2182.2 46.45Z" fill="#77AC30" fill-rule="evenodd"/>
<path d="M259.2 1540.95 L323.3 1540.95 L387.4 1540.95 L451.5 1540.95 L515.6 1540.95 L579.7 1540.95 L643.8 1540.95 L707.9 1540.95 L772 1540.95 L836.1 1540.95 L900.2 1540.95 L964.3 1540.95 L1028.4 1540.95 L1092.5 1540.95 L1156.6 1511.26 L1220.7 1407.35 L1284.8 976.84 L1348.9 442.42 L1413 308.82 L1477.1 100.99 L1541.2 56.45 L1605.3 56.45 L1669.4 56.45 L1733.5 56.45 L1797.6 56.45 L1861.7 56.45 L1925.8 56.45 L1989.9 56.45 L2054 56.45 L2118.1 56.45 L2182.2 56.45" stroke="#4DBEEE" stroke-width="12.6" fill="none" stroke-linejoin="round"/>
<path d="M259.2 1577.25 L227.76 1522.8 L290.64 1522.8Z M267.86 1535.95 L250.54 1535.95 L259.2 1550.95Z" fill="#4DBEEE" fill-rule="evenodd"/><path d="M323.3 1577.25 L291.86 1522.8 L354.74 1522.8Z M331.96 1535.95 L314.64 1535.95 L323.3 1550.95Z" fill="#4DBEEE" fill-rule="evenodd"/><path d="M387.4 1577.25 L355.96 1522.8 L418.84 1522.8Z M396.06 1535.95 L378.74 1535.95 L387.4 1550.95Z" fill="#4DBEEE" fill-rule="evenodd"/><path d="M451.5 1577.25 L420.06 1522.8 L482.94 1522.8Z M460.16 1535.95 L442.84 1535.95 L451.5 1550.95Z" fill="#4DBEEE" fill-rule="evenodd"/><path d="M515.6 1577.25 L484.16 1522.8 L547.04 1522.8Z M524.26 1535.95 L506.94 1535.95 L515.6 1550.95Z" fill="#4DBEEE" fill-rule="evenodd"/><path d="M579.7 1577.25 L548.26 1522.8 L611.14 1522.8Z M588.36 1535.95 L571.04 1535.95 L579.7 1550.95Z" fill="#4DBEEE" fill-rule="evenodd"/><path d="M643.8 1577.25 L612.36 1522.8 L675.24 1522.8Z M652.46 1535.95 L635.14 1535.95 L643.8 1550.95Z" fill="#4DBEEE" fill-rule="evenodd"/><path d="M707.9 1577.25 L676.46 1522.8 L739.34 1522.8Z M716.56 1535.95 L699.24 1535.95 L707.9 1550.95Z" fill="#4DBEEE" fill-rule="evenodd"/><path d="M772 1577.25 L740.56 1522.8 L803.44 1522.8Z M780.66 1535.95 L763.34 1535.95 L772 1550.95Z" fill="#4DBEEE" fill-rule="evenodd"/><path d="M836.1 1577.25 L804.66 1522.8 L867.54 1522.8Z M844.76 1535.95 L827.44 1535.95 L836.1 1550.95Z" fill="#4DBEEE" fill-rule="evenodd"/><path d="M900.2 1577.25 L868.76 1522.8 L931.64 1522.8Z M908.86 1535.95 L891.54 1535.95 L900.2 1550.95Z" fill="#4DBEEE" fill-rule="evenodd"/><path d="M964.3 1577.25 L932.86 1522.8 L995.74 1522.8Z M972.96 1535.95 L955.64 1535.95 L964.3 1550.95Z" fill="#4DBEEE" fill-rule="evenodd"/><path d="M1028.4 1577.25 L996.96 1522.8 L1059.84 1522.8Z M1037.06 1535.95 L1019.74 1535.95 L1028.4 1550.95Z" fill="#4DBEEE" fill-rule="evenodd"/><path d="M1092.5 1577.25 L1061.06 1522.8 L1123.94 1522.8Z M1101.16 1535.95 L1083.84 1535.95 L1092.5 1550.95Z" fill="#4DBEEE" fill-rule="evenodd"/><path d="M1156.6 1547.56 L1125.16 1493.11 L1188.04 1493.11Z M1165.26 1506.26 L1147.94 1506.26 L1156.6 1521.26Z" fill="#4DBEEE" fill-rule="evenodd"/><path d="M1220.7 1443.64 L1189.26 1389.19 L1252.14 1389.19Z M1229.36 1402.35 L1212.04 1402.35 L1220.7 1417.35Z" fill="#4DBEEE" fill-rule="evenodd"/><path d="M1284.8 1013.14 L1253.36 958.69 L1316.24 958.69Z M1293.46 971.84 L1276.14 971.84 L1284.8 986.84Z" fill="#4DBEEE" fill-rule="evenodd"/><path d="M1348.9 478.72 L1317.46 424.27 L1380.34 424.27Z M1357.56 437.42 L1340.24 437.42 L1348.9 452.42Z" fill="#4DBEEE" fill-rule="evenodd"/><path d="M1413 345.12 L1381.56 290.67 L1444.44 290.67Z M1421.66 303.82 L1404.34 303.82 L1413 318.82Z" fill="#4DBEEE" fill-rule="evenodd"/><path d="M1477.1 137.29 L1445.66 82.84 L1508.54 82.84Z M1485.76 95.99 L1468.44 95.99 L1477.1 110.99Z" fill="#4DBEEE" fill-rule="evenodd"/><path d="M1541.2 92.75 L1509.76 38.3 L1572.64 38.3Z M1549.86 51.45 L1532.54 51.45 L1541.2 66.45Z" fill="#4DBEEE" fill-rule="evenodd"/><path d="M1605.3 92.75 L1573.86 38.3 L1636.74 38.3Z M1613.96 51.45 L1596.64 51.45 L1605.3 66.45Z" fill="#4DBEEE" fill-rule="evenodd"/><path d="M1669.4 92.75 L1637.96 38.3 L1700.84 38.3Z M1678.06 51.45 L1660.74 51.45 L1669.4 66.45Z" fill="#4DBEEE" fill-rule="evenodd"/><path d="M1733.5 92.75 L1702.06 38.3 L1764.94 38.3Z M1742.16 51.45 L1724.84 51.45 L1733.5 66.45Z" fill="#4DBEEE" fill-rule="evenodd"/><path d="M1797.6 92.75 L1766.16 38.3 L1829.04 38.3Z M1806.26 51.45 L1788.94 51.45 L1797.6 66.45Z" fill="#4DBEEE" fill-rule="evenodd"/><path d="M1861.7 92.75 L1830.26 38.3 L1893.14 38.3Z M1870.36 51.45 L1853.04 51.45 L1861.7 66.45Z" fill="#4DBEEE" fill-rule="evenodd"/><path d="M1925.8 92.75 L1894.36 38.3 L1957.24 38.3Z M1934.46 51.45 L1917.14 51.45 L1925.8 66.45Z" fill="#4DBEEE" fill-rule="evenodd"/><path d="M1989.9 92.75 L1958.46 38.3 L2021.34 38.3Z M1998.56 51.45 L1981.24 51.45 L1989.9 66.45Z" fill="#4DBEEE" fill-rule="evenodd"/><path d="M2054 92.75 L2022.56 38.3 L2085.44 38.3Z M2062.66 51.45 L2045.34 51.45 L2054 66.45Z" fill="#4DBEEE" fill-rule="evenodd"/><path d="M2118.1 92.75 L2086.66 38.3 L2149.54 38.3Z M2126.76 51.45 L2109.44 51.45 L2118.1 66.45Z" fill="#4DBEEE" fill-rule="evenodd"/><path d="M2182.2 92.75 L2150.76 38.3 L2213.64 38.3Z M2190.86 51.45 L2173.54 51.45 L2182.2 66.45Z" fill="#4DBEEE" fill-rule="evenodd"/>
<rect x="252.8" y="49.1" width="6.4" height="13.6" fill="#0072BD"/>
<path d="M530 526 H1004 V902.9 H530 Z M544.92 902.9 v-9 M544.92 526 v9 M694.08 902.9 v-9 M694.08 526 v9 M843.24 902.9 v-9 M843.24 526 v9 M992.4 902.9 v-9 M992.4 526 v9 M530 779.8 h9 M1004 779.8 h-9 M530 652.9 h9 M1004 652.9 h-9 M530 526 h9 M1004 526 h-9" stroke="#262626" stroke-width="8" fill="none"/>
<text x="498.7" y="810.65" font-size="84" fill="#262626" text-anchor="end">0.9</text>
<text x="498.7" y="683.75" font-size="84" fill="#262626" text-anchor="end">0.95</text>
<text x="498.7" y="556.85" font-size="84" fill="#262626" text-anchor="end">1</text>
<text x="543.82" y="1011" font-size="84" fill="#262626" text-anchor="middle">-6</text>
<text x="692.98" y="1011" font-size="84" fill="#262626" text-anchor="middle">-4</text>
<text x="842.14" y="1011" font-size="84" fill="#262626" text-anchor="middle">-2</text>
<text x="991.3" y="1011" font-size="84" fill="#262626" text-anchor="middle">0</text>
<path d="M530 526 L544.92 526 L619.5 526 L694.08 526 L768.66 526 L843.24 526 L917.82 526 L992.4 526 L1004 526" stroke="#0072BD" stroke-width="12.6" fill="none" stroke-linejoin="round"/>
<path d="M537.63 508.4 L552.21 508.4 L562.52 518.71 L562.52 533.29 L552.21 543.6 L537.63 543.6 L527.32 533.29 L527.32 518.71Z" fill="#0072BD"/><path d="M612.21 508.4 L626.79 508.4 L637.1 518.71 L637.1 533.29 L626.79 543.6 L612.21 543.6 L601.9 533.29 L601.9 518.71Z" fill="#0072BD"/><path d="M686.79 508.4 L701.37 508.4 L711.68 518.71 L711.68 533.29 L701.37 543.6 L686.79 543.6 L676.48 533.29 L676.48 518.71Z" fill="#0072BD"/><path d="M761.37 508.4 L775.95 508.4 L786.26 518.71 L786.26 533.29 L775.95 543.6 L761.37 543.6 L751.06 533.29 L751.06 518.71Z" fill="#0072BD"/><path d="M835.95 508.4 L850.53 508.4 L860.84 518.71 L860.84 533.29 L850.53 543.6 L835.95 543.6 L825.64 533.29 L825.64 518.71Z" fill="#0072BD"/><path d="M910.53 508.4 L925.11 508.4 L935.42 518.71 L935.42 533.29 L925.11 543.6 L910.53 543.6 L900.22 533.29 L900.22 518.71Z" fill="#0072BD"/><path d="M985.11 508.4 L999.69 508.4 L1010 518.71 L1010 533.29 L999.69 543.6 L985.11 543.6 L974.8 533.29 L974.8 518.71Z" fill="#0072BD"/>
<path d="M530 526 L544.92 526 L619.5 526 L694.08 526 L768.66 526 L843.24 526 L917.82 526 L992.4 526 L1004 526" stroke="#D95319" stroke-width="12.6" fill="none" stroke-linejoin="round"/>
<rect x="525.42" y="506.5" width="39" height="39" fill="#D95319"/><rect x="537.72" y="518.3" width="14.4" height="1.4" fill="#0072BD"/><rect x="537.72" y="532.3" width="14.4" height="1.4" fill="#0072BD"/><rect x="600" y="506.5" width="39" height="39" fill="#D95319"/><rect x="612.3" y="518.3" width="14.4" height="1.4" fill="#0072BD"/><rect x="612.3" y="532.3" width="14.4" height="1.4" fill="#0072BD"/><rect x="674.58" y="506.5" width="39" height="39" fill="#D95319"/><rect x="686.88" y="518.3" width="14.4" height="1.4" fill="#0072BD"/><rect x="686.88" y="532.3" width="14.4" height="1.4" fill="#0072BD"/><rect x="749.16" y="506.5" width="39" height="39" fill="#D95319"/><rect x="761.46" y="518.3" width="14.4" height="1.4" fill="#0072BD"/><rect x="761.46" y="532.3" width="14.4" height="1.4" fill="#0072BD"/><rect x="823.74" y="506.5" width="39" height="39" fill="#D95319"/><rect x="836.04" y="518.3" width="14.4" height="1.4" fill="#0072BD"/><rect x="836.04" y="532.3" width="14.4" height="1.4" fill="#0072BD"/><rect x="898.32" y="506.5" width="39" height="39" fill="#D95319"/><rect x="910.62" y="518.3" width="14.4" height="1.4" fill="#0072BD"/><rect x="910.62" y="532.3" width="14.4" height="1.4" fill="#0072BD"/><rect x="972.9" y="506.5" width="39" height="39" fill="#D95319"/><rect x="985.2" y="518.3" width="14.4" height="1.4" fill="#0072BD"/><rect x="985.2" y="532.3" width="14.4" height="1.4" fill="#0072BD"/>
<path d="M608.87 902.9 L619.5 830.56 L694.08 551.38 L768.66 526 L843.24 526 L917.82 526 L992.4 526 L1004 526" stroke="#EDB120" stroke-width="12.6" fill="none" stroke-linejoin="round"/>
<circle cx="619.5" cy="830.56" r="17.6" fill="none" stroke="#EDB120" stroke-width="12.6"/><circle cx="694.08" cy="551.38" r="17.6" fill="none" stroke="#EDB120" stroke-width="12.6"/><circle cx="768.66" cy="526" r="17.6" fill="none" stroke="#EDB120" stroke-width="12.6"/><circle cx="843.24" cy="526" r="17.6" fill="none" stroke="#EDB120" stroke-width="12.6"/><circle cx="917.82" cy="526" r="17.6" fill="none" stroke="#EDB120" stroke-width="12.6"/><circle cx="992.4" cy="526" r="17.6" fill="none" stroke="#EDB120" stroke-width="12.6"/>
<path d="M592.29 902.9 L619.5 652.9 L694.08 526 L768.66 526 L843.24 526 L917.82 526 L992.4 526 L1004 526" stroke="#7E2F8E" stroke-width="12.6" fill="none" stroke-linejoin="round"/>
<path d="M619.5 615.9 L627.81 641.47 L654.69 641.47 L632.94 657.27 L641.25 682.83 L619.5 667.03 L597.75 682.83 L606.06 657.27 L584.31 641.47 L611.19 641.47Z" fill="#7E2F8E"/><path d="M694.08 489 L702.39 514.57 L729.27 514.57 L707.52 530.37 L715.83 555.93 L694.08 540.13 L672.33 555.93 L680.64 530.37 L658.89 514.57 L685.77 514.57Z" fill="#7E2F8E"/><path d="M768.66 489 L776.97 514.57 L803.85 514.57 L782.1 530.37 L790.41 555.93 L768.66 540.13 L746.91 555.93 L755.22 530.37 L733.47 514.57 L760.35 514.57Z" fill="#7E2F8E"/><path d="M843.24 489 L851.55 514.57 L878.43 514.57 L856.68 530.37 L864.99 555.93 L843.24 540.13 L821.49 555.93 L829.8 530.37 L808.05 514.57 L834.93 514.57Z" fill="#7E2F8E"/><path d="M917.82 489 L926.13 514.57 L953.01 514.57 L931.26 530.37 L939.57 555.93 L917.82 540.13 L896.07 555.93 L904.38 530.37 L882.63 514.57 L909.51 514.57Z" fill="#7E2F8E"/><path d="M992.4 489 L1000.71 514.57 L1027.59 514.57 L1005.84 530.37 L1014.15 555.93 L992.4 540.13 L970.65 555.93 L978.96 530.37 L957.21 514.57 L984.09 514.57Z" fill="#7E2F8E"/>
<path d="M835.65 902.9 L843.24 830.56 L917.82 602.14 L992.4 526 L1004 526" stroke="#77AC30" stroke-width="12.6" fill="none" stroke-linejoin="round"/>
<path d="M843.24 794.26 L874.68 848.71 L811.8 848.71Z M834.58 835.56 L851.9 835.56 L843.24 820.56Z" fill="#77AC30" fill-rule="evenodd"/><path d="M917.82 565.84 L949.26 620.29 L886.38 620.29Z M909.16 607.14 L926.48 607.14 L917.82 592.14Z" fill="#77AC30" fill-rule="evenodd"/><path d="M992.4 489.7 L1023.84 544.15 L960.96 544.15Z M983.74 531 L1001.06 531 L992.4 516Z" fill="#77AC30" fill-rule="evenodd"/>
<path d="M854.69 902.9 L917.82 602.14 L992.4 526 L1004 526" stroke="#4DBEEE" stroke-width="12.6" fill="none" stroke-linejoin="round"/>
<path d="M917.82 638.44 L886.38 583.99 L949.26 583.99Z M926.48 597.14 L909.16 597.14 L917.82 612.14Z" fill="#4DBEEE" fill-rule="evenodd"/><path d="M992.4 562.3 L960.96 507.85 L1023.84 507.85Z M1001.06 521 L983.74 521 L992.4 536Z" fill="#4DBEEE" fill-rule="evenodd"/>
<rect x="1142" y="58.6" width="407.7" height="219.4" fill="none" stroke="#000" stroke-width="9.3"/>
<path d="M1142 58.6 L557.92 504.17" stroke="#000" stroke-width="9.3" stroke-dasharray="9.3 8.4" stroke-dashoffset="-0.5" fill="none"/>
<circle cx="1134.84" cy="64.06" r="10.5" fill="#000"/>
<path d="M1134.84 64.06 L1120.29 75.16" stroke="#000" stroke-width="9.3" fill="none"/>
<path d="M529.3 526 L550.94 481.82 L557.92 504.17 L577.63 516.8Z" fill="#000"/>
<path d="M1549.7 278 L1027.09 875.89" stroke="#000" stroke-width="9.3" stroke-dasharray="9.3 8.4" stroke-dashoffset="-0.5" fill="none"/>
<circle cx="1543.78" cy="284.78" r="10.5" fill="#000"/>
<path d="M1543.78 284.78 L1531.73 298.55" stroke="#000" stroke-width="9.3" fill="none"/>
<path d="M1003.4 903 L1015.79 855.39 L1027.09 875.89 L1048.92 884.35Z" fill="#000"/>
<rect x="1269.4" y="1089.4" width="912.9" height="450.9" fill="#fff" stroke="#262626" stroke-width="3.6"/>
<path d="M1287 1132.4 H1465" stroke="#0072BD" stroke-width="12.6"/>
<path d="M1368.71 1114.8 L1383.29 1114.8 L1393.6 1125.11 L1393.6 1139.69 L1383.29 1150 L1368.71 1150 L1358.4 1139.69 L1358.4 1125.11Z" fill="#0072BD"/>
<text x="1477.1" y="1154.9" font-size="59" fill="#000">Proposed method-BPSK</text>
<path d="M1287 1205.4 H1465" stroke="#D95319" stroke-width="12.6"/>
<rect x="1356.5" y="1185.9" width="39" height="39" fill="#D95319"/>
<text x="1477.1" y="1227.9" font-size="59" fill="#000">Proposed method-QPSK</text>
<path d="M1287 1278.4 H1465" stroke="#EDB120" stroke-width="12.6"/>
<circle cx="1376" cy="1278.4" r="17.6" fill="none" stroke="#EDB120" stroke-width="12.6"/>
<text x="1477.1" y="1300.9" font-size="59" fill="#000">Method by Z.H. 2023-BPSK</text>
<path d="M1287 1351.4 H1465" stroke="#7E2F8E" stroke-width="12.6"/>
<path d="M1376 1314.4 L1384.31 1339.97 L1411.19 1339.97 L1389.44 1355.77 L1397.75 1381.33 L1376 1365.53 L1354.25 1381.33 L1362.56 1355.77 L1340.81 1339.97 L1367.69 1339.97Z" fill="#7E2F8E"/>
<text x="1477.1" y="1373.9" font-size="59" fill="#000">Method by Z.H. 2023-QPSK</text>
<path d="M1287 1424.4 H1465" stroke="#77AC30" stroke-width="12.6"/>
<path d="M1376 1388.1 L1407.44 1442.55 L1344.56 1442.55Z M1367.34 1429.4 L1384.66 1429.4 L1376 1414.4Z" fill="#77AC30" fill-rule="evenodd"/>
<text x="1477.1" y="1446.9" font-size="59" fill="#000">Method by C.L. 2006-BPSK</text>
<path d="M1287 1497.4 H1465" stroke="#4DBEEE" stroke-width="12.6"/>
<path d="M1376 1533.7 L1344.56 1479.25 L1407.44 1479.25Z M1384.66 1492.4 L1367.34 1492.4 L1376 1507.4Z" fill="#4DBEEE" fill-rule="evenodd"/>
<text x="1477.1" y="1519.9" font-size="59" fill="#000">Method by C.L. 2006-QPSK</text>
</svg></body></html>
